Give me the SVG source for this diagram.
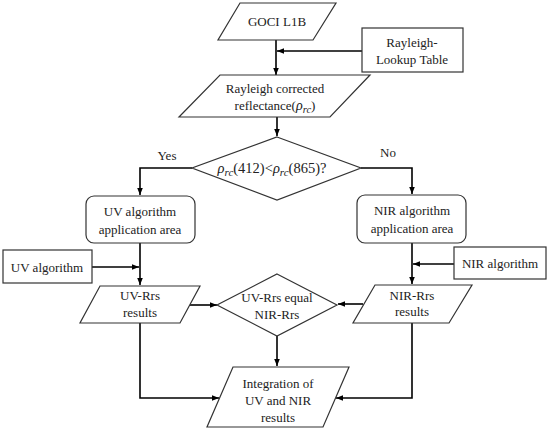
<svg xmlns="http://www.w3.org/2000/svg" width="550" height="432" viewBox="0 0 550 432">
<defs>
<marker id="ah" viewBox="0 0 10 10" refX="10" refY="5" markerWidth="7" markerHeight="7" markerUnits="userSpaceOnUse" orient="auto">
<path d="M0,1 L10,5 L0,9 z" fill="#000"/>
</marker>
</defs>
<style>
.s{fill:#fff;stroke:#333;stroke-width:1.2}
.t{font-family:"Liberation Serif","Times New Roman",serif;font-size:13px;fill:#222;text-anchor:middle}
.f{font-size:14.5px}
.c{fill:none;stroke:#000;stroke-width:1.6}
.a{marker-end:url(#ah)}
</style>
<rect width="550" height="432" fill="#fff"/>
<g id="connectors">
<path class="c a" d="M276,40 V75"/>
<path class="c a" d="M362,51 H277"/>
<path class="c a" d="M277,117 V136"/>
<path class="c a" d="M192,168 H140 V195"/>
<path class="c a" d="M361,168 H412 V194"/>
<path class="c a" d="M140,243 V285"/>
<path class="c a" d="M92,267 H139"/>
<path class="c a" d="M412,243 V284"/>
<path class="c a" d="M454,264 H413"/>
<path class="c a" d="M190,305 H217"/>
<path class="c a" d="M363,304 H338"/>
<path class="c a" d="M277,336 V366"/>
<path class="c a" d="M140,323 V398 H219"/>
<path class="c a" d="M412,323 V398 H336"/>
</g>
<g id="goci">
<path class="s" d="M240,3 H336 L313,40 H218 Z"/>
<text class="t" x="277" y="26">GOCI L1B</text>
</g>
<g id="lookup">
<rect class="s" x="362" y="28" width="101" height="44"/>
<text class="t" x="412" y="47">Rayleigh-</text>
<text class="t" x="412" y="64">Lookup Table</text>
</g>
<g id="rayleigh">
<path class="s" d="M220,75 H370 L330,117 H179 Z"/>
<text class="t" x="275" y="93">Rayleigh corrected</text>
<text class="t" x="275" y="110">reflectance(<tspan font-style="italic" font-size="14">ρ</tspan><tspan font-style="italic" font-size="10.5" dy="3">rc</tspan><tspan dy="-3">)</tspan></text>
</g>
<g id="decision">
<path class="s" d="M277,137 L361,168 L277,200 L192,168 Z"/>
<text class="t f" x="272" y="173"><tspan font-style="italic">ρ</tspan><tspan font-style="italic" font-size="11" dy="3">rc</tspan><tspan dy="-3">(412)&lt;</tspan><tspan font-style="italic">ρ</tspan><tspan font-style="italic" font-size="11" dy="3">rc</tspan><tspan dy="-3">(865)?</tspan></text>
<text class="t" x="167" y="160">Yes</text>
<text class="t" x="388" y="157">No</text>
</g>
<g id="uvarea">
<rect class="s" x="86" y="196" width="109" height="47" rx="8"/>
<text class="t" x="140" y="216">UV algorithm</text>
<text class="t" x="140" y="234">application area</text>
</g>
<g id="nirarea">
<rect class="s" x="357" y="195" width="109" height="48" rx="8"/>
<text class="t" x="412" y="215">NIR algorithm</text>
<text class="t" x="412" y="233">application area</text>
</g>
<g id="uvalg">
<rect class="s" x="3" y="250" width="89" height="33"/>
<text class="t" x="47" y="272">UV algorithm</text>
</g>
<g id="niralg">
<rect class="s" x="454" y="247" width="92" height="32"/>
<text class="t" x="500" y="268">NIR algorithm</text>
</g>
<g id="uvrrs">
<path class="s" d="M100,286 H200 L180,323 H80 Z"/>
<text class="t" x="140" y="300">UV-Rrs</text>
<text class="t" x="140" y="317">results</text>
</g>
<g id="equal">
<path class="s" d="M277,274 L337,305 L277,336 L217,305 Z"/>
<text class="t" x="277" y="302">UV-Rrs equal</text>
<text class="t" x="277" y="319">NIR-Rrs</text>
</g>
<g id="nirrrs">
<path class="s" d="M375,285 H472 L449,323 H353 Z"/>
<text class="t" x="412" y="300">NIR-Rrs</text>
<text class="t" x="412" y="316">results</text>
</g>
<g id="integration">
<path class="s" d="M233,367 H349 L323,427 H207 Z"/>
<text class="t" x="278" y="388">Integration of</text>
<text class="t" x="278" y="405">UV and NIR</text>
<text class="t" x="278" y="422">results</text>
</g>
</svg>
